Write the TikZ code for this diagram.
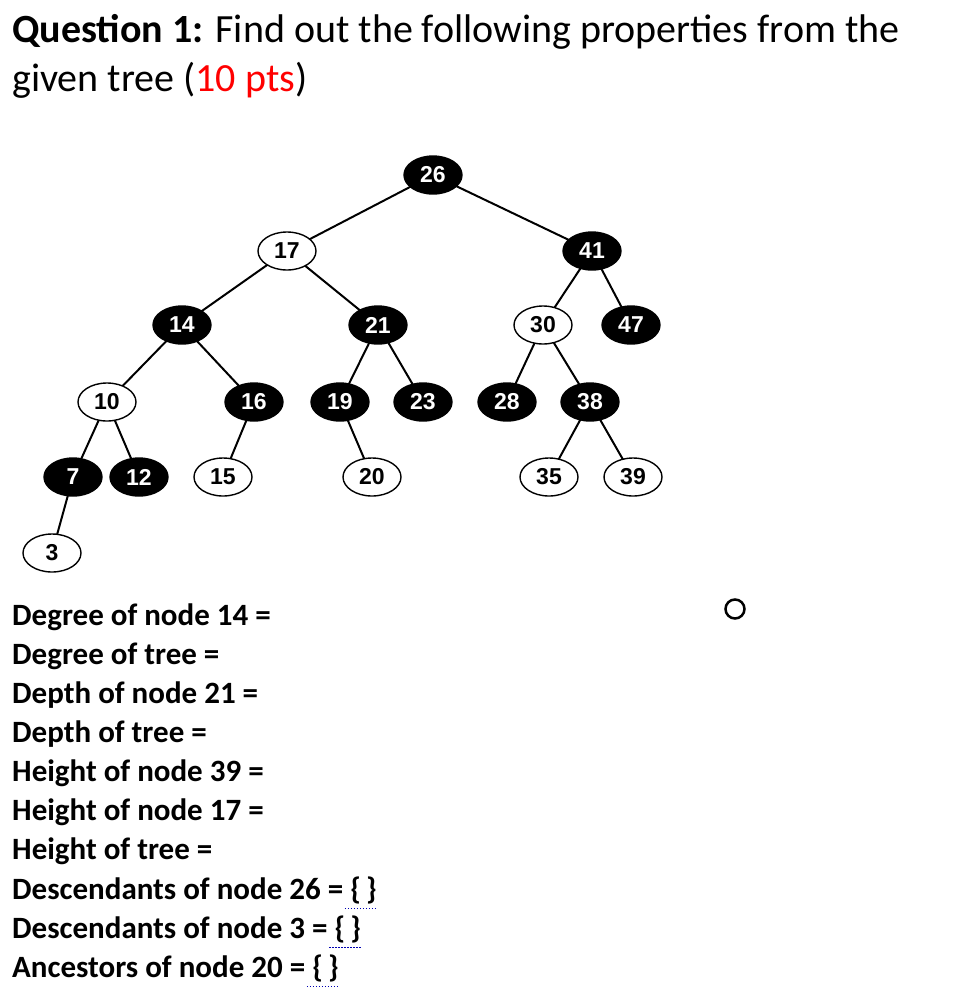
\documentclass[tikz,border=0pt]{standalone}
\usepackage{fontspec}
\setmainfont{Carlito}
\newfontfamily\nodefont{Liberation Sans}
\usetikzlibrary{shapes.geometric}
\begin{document}
\begin{tikzpicture}[x=1pt,y=-1pt,
  tn/.style={ellipse,draw=black,line width=1.4pt,minimum width=58pt,minimum height=38pt,inner sep=0pt,font=\nodefont\bfseries\fontsize{23}{23}\selectfont},
  bn/.style={tn,fill=black,text=white},
  wn/.style={tn,fill=white,text=black},
  edge/.style={line width=2pt},
  body/.style={anchor=west,font=\bfseries\fontsize{31}{31}\selectfont,inner sep=0pt}]
\useasboundingbox (0,0) rectangle (974,989);
\foreach \a/\b/\c/\d in {433/175/287/251,433/175/592/251,287/251/182/325,287/251/378/325,592/251/543/325,592/251/631/325,182/325/107/402,182/325/254/402,378/325/340/402,378/325/423/402,543/325/507/402,543/325/590/402,107/402/73/477,107/402/139/477,254/402/223/477,340/402/372/477,590/402/549/477,590/402/633/477,73/477/52/553}
  \draw[edge] (\a,\b) -- (\c,\d);
\node[anchor=west,inner sep=0pt,font=\fontsize{40}{40}\selectfont] (t1) at (12,32) {\textbf{Question 1:} Find out the following properties from the};
\node[anchor=west,inner sep=0pt,font=\fontsize{40}{40}\selectfont] (t2) at (12,80) {given tree (\textcolor{red}{10 pts})};
\node[bn] (n26) at (433,175) {26};
\node[wn] (n17) at (287,251) {17};
\node[bn] (n41) at (592,251) {41};
\node[bn] (n14) at (182,325) {14};
\node[bn] (n21) at (378,325) {21};
\node[wn] (n30) at (543,325) {30};
\node[bn] (n47) at (631,325) {47};
\node[wn] (n10) at (107,402) {10};
\node[bn] (n16) at (254,402) {16};
\node[bn] (n19) at (340,402) {19};
\node[bn] (n23) at (423,402) {23};
\node[bn] (n28) at (507,402) {28};
\node[bn] (n38) at (590,402) {38};
\node[bn] (n7) at (73,477) {7};
\node[bn] (n12) at (139,477) {12};
\node[wn] (n15) at (223,477) {15};
\node[wn] (n20) at (372,477) {20};
\node[wn] (n35) at (549,477) {35};
\node[wn] (n39) at (633,477) {39};
\node[wn] (n3) at (52,553) {3};
\node[circle,draw,line width=2.5pt,minimum size=19pt,inner sep=0pt] (c) at (735,609) {};
\node[body] (l1) at (12,617) {Degree of node 14 =};
\node[body] (l2) at (12,656) {Degree of tree =};
\node[body] (l3) at (12,695) {Depth of node 21 =};
\node[body] (l4) at (12,734) {Depth of tree =};
\node[body] (l5) at (12,773) {Height of node 39 =};
\node[body] (l6) at (12,812) {Height of node 17 =};
\node[body] (l7) at (12,851) {Height of tree =};
\node[body] (l8) at (12,890) {Descendants of node 26 = \{\,\}};
\node[body] (l9) at (12,929) {Descendants of node 3 = \{\,\}};
\node[body] (l10) at (12,968) {Ancestors of node 20 = \{\,\}};
\foreach \l in {l8,l9,l10}
  \draw[blue!70!black,line width=1.3pt,dash pattern=on 1.5pt off 1.5pt] (\l.south east) ++(-32,5) -- ++(32,0);
\end{tikzpicture}
\end{document}
